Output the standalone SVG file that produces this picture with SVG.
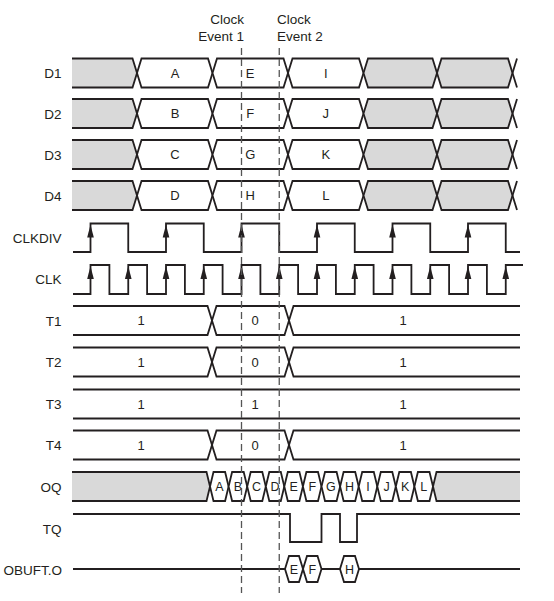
<svg xmlns="http://www.w3.org/2000/svg" xmlns:xlink="http://www.w3.org/1999/xlink" width="554" height="601" viewBox="0 0 554 601">
<style>
  .ln{fill:none;stroke:#231f20;stroke-width:1.8;stroke-linejoin:miter}
  .wh{fill:#ffffff;stroke:#231f20;stroke-width:1.8}
  .gr{fill:#d9d9d9;stroke:#231f20;stroke-width:1.8}
  .arr{fill:#231f20;stroke:none}
  .dash{fill:none;stroke:#555555;stroke-width:1.3;stroke-dasharray:7 4}
  text{font-family:"Liberation Sans",Arial,Helvetica,sans-serif;fill:#231f20}
  .lbl{font-size:13.5px;text-anchor:end}
  .val{font-size:13px;text-anchor:middle}
  .sm{font-size:12.5px;text-anchor:middle}
  .ev{font-size:13.5px}
</style>
<defs>
  <g id="drow">
    <path class="gr" d="M72,-14.5 H132.5 L137,0 L132.5,14.5 H72"/>
    <polygon class="wh" points="137,0 141.5,-14.5 208,-14.5 212.5,0 208,14.5 141.5,14.5"/>
    <polygon class="wh" points="212.5,0 217,-14.5 283.5,-14.5 288,0 283.5,14.5 217,14.5"/>
    <polygon class="wh" points="288,0 292.5,-14.5 359,-14.5 363.5,0 359,14.5 292.5,14.5"/>
    <polygon class="gr" points="363.5,0 368,-14.5 432.5,-14.5 437,0 432.5,14.5 368,14.5"/>
    <polygon class="gr" points="437,0 441.5,-14.5 508,-14.5 512.5,0 508,14.5 441.5,14.5"/>
    <path class="ln" d="M512.5,0 L517,-14.5 M512.5,0 L517,14.5"/>
  </g>
  <g id="trow">
    <path class="ln" d="M73,-14.5 H207.5 L212,0 L207.5,14.5 H73"/>
    <polygon class="wh" points="212,0 216.5,-14.5 284.5,-14.5 289,0 284.5,14.5 216.5,14.5"/>
    <path class="ln" d="M520,-14.5 H293.5 L289,0 L293.5,14.5 H520"/>
  </g>
  <path id="arrow" class="arr" d="M0,0 L-3.3,13 L3.3,13 Z"/>
</defs>

<g id="events">
  <text class="ev" x="244" y="24" text-anchor="end">Clock</text>
  <text class="ev" x="244" y="40.5" text-anchor="end">Event 1</text>
  <text class="ev" x="277" y="24">Clock</text>
  <text class="ev" x="277" y="40.5">Event 2</text>
</g>

<g id="D1">
  <text class="lbl" x="61.5" y="78">D1</text>
  <use xlink:href="#drow" href="#drow" transform="translate(0,73)"/>
  <text class="val" x="175" y="77.7">A</text>
  <text class="val" x="250.2" y="77.7">E</text>
  <text class="val" x="325.8" y="77.7">I</text>
</g>
<g id="D2">
  <text class="lbl" x="61.5" y="118.5">D2</text>
  <use xlink:href="#drow" href="#drow" transform="translate(0,113.5)"/>
  <text class="val" x="175" y="118.2">B</text>
  <text class="val" x="250.2" y="118.2">F</text>
  <text class="val" x="325.8" y="118.2">J</text>
</g>
<g id="D3">
  <text class="lbl" x="61.5" y="159.5">D3</text>
  <use xlink:href="#drow" href="#drow" transform="translate(0,154.5)"/>
  <text class="val" x="175" y="159.2">C</text>
  <text class="val" x="250.2" y="159.2">G</text>
  <text class="val" x="325.8" y="159.2">K</text>
</g>
<g id="D4">
  <text class="lbl" x="61.5" y="200.5">D4</text>
  <use xlink:href="#drow" href="#drow" transform="translate(0,195.5)"/>
  <text class="val" x="175" y="200.2">D</text>
  <text class="val" x="250.2" y="200.2">H</text>
  <text class="val" x="325.8" y="200.2">L</text>
</g>

<g id="CLKDIV">
  <text class="lbl" x="61.5" y="243">CLKDIV</text>
  <path class="ln" d="M73,252 H90.5 V223.5 H128.25 V252 H166 V223.5 H203.75 V252 H241.5 V223.5 H279.25 V252 H317 V223.5 H354.75 V252 H392.5 V223.5 H430.25 V252 H468 V223.5 H505.75 V252 H520"/>
  <use xlink:href="#arrow" href="#arrow" transform="translate(90.5,224.5)"/>
  <use xlink:href="#arrow" href="#arrow" transform="translate(166,224.5)"/>
  <use xlink:href="#arrow" href="#arrow" transform="translate(241.5,224.5)"/>
  <use xlink:href="#arrow" href="#arrow" transform="translate(317,224.5)"/>
  <use xlink:href="#arrow" href="#arrow" transform="translate(392.5,224.5)"/>
  <use xlink:href="#arrow" href="#arrow" transform="translate(468,224.5)"/>
</g>

<g id="CLK">
  <text class="lbl" x="61.5" y="284">CLK</text>
  <path class="ln" d="M73,294 H90.5 V265 H109.4 V294 H128.25 V265 H147.1 V294 H166 V265 H184.9 V294 H203.75 V265 H222.6 V294 H241.5 V265 H260.4 V294 H279.25 V265 H298.1 V294 H317 V265 H335.9 V294 H354.75 V265 H373.6 V294 H392.5 V265 H411.4 V294 H430.25 V265 H449.1 V294 H468 V265 H486.9 V294 H505.75 V265 H523"/>
  <use xlink:href="#arrow" href="#arrow" transform="translate(90.5,266)"/>
  <use xlink:href="#arrow" href="#arrow" transform="translate(128.25,266)"/>
  <use xlink:href="#arrow" href="#arrow" transform="translate(166,266)"/>
  <use xlink:href="#arrow" href="#arrow" transform="translate(203.75,266)"/>
  <use xlink:href="#arrow" href="#arrow" transform="translate(241.5,266)"/>
  <use xlink:href="#arrow" href="#arrow" transform="translate(279.25,266)"/>
  <use xlink:href="#arrow" href="#arrow" transform="translate(317,266)"/>
  <use xlink:href="#arrow" href="#arrow" transform="translate(354.75,266)"/>
  <use xlink:href="#arrow" href="#arrow" transform="translate(392.5,266)"/>
  <use xlink:href="#arrow" href="#arrow" transform="translate(430.25,266)"/>
  <use xlink:href="#arrow" href="#arrow" transform="translate(468,266)"/>
  <use xlink:href="#arrow" href="#arrow" transform="translate(505.75,266)"/>
</g>

<g id="T1">
  <text class="lbl" x="61.5" y="325.5">T1</text>
  <use xlink:href="#trow" href="#trow" transform="translate(0,320.5)"/>
  <text class="val" x="141" y="325.2">1</text>
  <text class="val" x="255" y="325.2">0</text>
  <text class="val" x="403" y="325.2">1</text>
</g>
<g id="T2">
  <text class="lbl" x="61.5" y="367">T2</text>
  <use xlink:href="#trow" href="#trow" transform="translate(0,362)"/>
  <text class="val" x="141" y="366.7">1</text>
  <text class="val" x="255" y="366.7">0</text>
  <text class="val" x="403" y="366.7">1</text>
</g>
<g id="T3">
  <text class="lbl" x="61.5" y="409">T3</text>
  <path class="ln" d="M73,389.5 H520 M73,418.5 H520"/>
  <text class="val" x="141" y="408.7">1</text>
  <text class="val" x="255" y="408.7">1</text>
  <text class="val" x="403" y="408.7">1</text>
</g>
<g id="T4">
  <text class="lbl" x="61.5" y="450">T4</text>
  <use xlink:href="#trow" href="#trow" transform="translate(0,445)"/>
  <text class="val" x="141" y="449.7">1</text>
  <text class="val" x="255" y="449.7">0</text>
  <text class="val" x="403" y="449.7">1</text>
</g>

<g id="OQ">
  <text class="lbl" x="61.5" y="491.5">OQ</text>
  <path class="gr" d="M72,472 H206.5 L210,486.5 L206.5,501 H72"/>
  <polygon class="wh" points="210,486.5 213.5,472 225.1,472 228.6,486.5 225.1,501 213.5,501"/>
  <polygon class="wh" points="228.6,486.5 232.1,472 243.7,472 247.2,486.5 243.7,501 232.1,501"/>
  <polygon class="wh" points="247.2,486.5 250.7,472 262.3,472 265.8,486.5 262.3,501 250.7,501"/>
  <polygon class="wh" points="265.8,486.5 269.3,472 280.8,472 284.3,486.5 280.8,501 269.3,501"/>
  <polygon class="wh" points="284.3,486.5 287.8,472 299.4,472 302.9,486.5 299.4,501 287.8,501"/>
  <polygon class="wh" points="302.9,486.5 306.4,472 318,472 321.5,486.5 318,501 306.4,501"/>
  <polygon class="wh" points="321.5,486.5 325,472 336.6,472 340.1,486.5 336.6,501 325,501"/>
  <polygon class="wh" points="340.1,486.5 343.6,472 355.2,472 358.7,486.5 355.2,501 343.6,501"/>
  <polygon class="wh" points="358.7,486.5 362.2,472 373.8,472 377.3,486.5 373.8,501 362.2,501"/>
  <polygon class="wh" points="377.3,486.5 380.8,472 392.3,472 395.8,486.5 392.3,501 380.8,501"/>
  <polygon class="wh" points="395.8,486.5 399.3,472 410.9,472 414.4,486.5 410.9,501 399.3,501"/>
  <polygon class="wh" points="414.4,486.5 417.9,472 429.5,472 433,486.5 429.5,501 417.9,501"/>
  <path class="gr" d="M520,472 H436.5 L433,486.5 L436.5,501 H520"/>
  <text class="sm" x="219.3" y="491">A</text>
  <text class="sm" x="237.9" y="491">B</text>
  <text class="sm" x="256.5" y="491">C</text>
  <text class="sm" x="275" y="491">D</text>
  <text class="sm" x="293.6" y="491">E</text>
  <text class="sm" x="312.2" y="491">F</text>
  <text class="sm" x="330.8" y="491">G</text>
  <text class="sm" x="349.4" y="491">H</text>
  <text class="sm" x="368" y="491">I</text>
  <text class="sm" x="386.5" y="491">J</text>
  <text class="sm" x="405.1" y="491">K</text>
  <text class="sm" x="423.7" y="491">L</text>
</g>

<g id="TQ">
  <text class="lbl" x="61.5" y="534">TQ</text>
  <path class="ln" d="M73,514 H290 V542 H321.5 V514 H340 V542 H357 V514 H520"/>
</g>

<g id="OBUFT_O">
  <text class="lbl" x="62" y="575">OBUFT.O</text>
  <path class="ln" d="M73,569 H285 M321.5,569 H340 M359,569 H520"/>
  <polygon class="wh" points="285,569 289,556 299,556 303,569 299,582 289,582"/>
  <polygon class="wh" points="303,569 307,556 317.5,556 321.5,569 317.5,582 307,582"/>
  <polygon class="wh" points="340,569 344,556 355,556 359,569 355,582 344,582"/>
  <text class="sm" x="294" y="573.5">E</text>
  <text class="sm" x="312.3" y="573.5">F</text>
  <text class="sm" x="349.5" y="573.5">H</text>
</g>

<g id="connectors">
  <line class="dash" x1="241.5" y1="48" x2="241.5" y2="593"/>
  <line class="dash" x1="279.25" y1="48" x2="279.25" y2="593"/>
</g>
</svg>
